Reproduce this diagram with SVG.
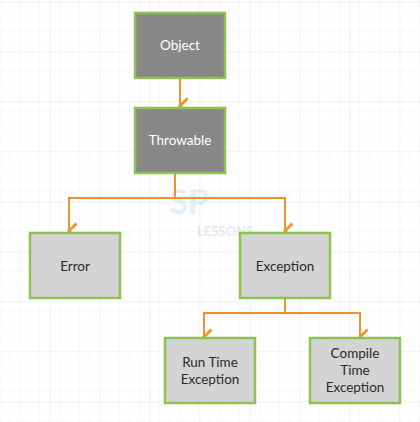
<svg xmlns="http://www.w3.org/2000/svg" width="420" height="422" viewBox="0 0 420 422">
<defs>
<pattern id="minor" width="10" height="10" patternUnits="userSpaceOnUse" x="0" y="2">
<path d="M10 0V10M0 10H10" fill="none" stroke="#f2f2f2" stroke-width="1"/>
</pattern>
<pattern id="major" width="50" height="50" patternUnits="userSpaceOnUse" x="0.5" y="2.5">
<path d="M50 0V50M0 50H50" fill="none" stroke="#e8e8e8" stroke-width="1"/>
</pattern>
<marker id="arr" viewBox="0 0 18 11" refX="9" refY="9" markerWidth="18" markerHeight="11" markerUnits="userSpaceOnUse" orient="auto-start-reverse">
<path d="M1.5 1.5L9 9L16.5 1.5" fill="none" stroke="#f0922a" stroke-width="2.8"/>
</marker>
</defs>
<style>
.dark{fill:#888888;stroke:#8cc250;stroke-width:2.5}
.light{fill:#d4d4d4;stroke:#8cc250;stroke-width:2.5}
.tw{font-family:Lato,"Open Sans",sans-serif;font-size:13.5px;fill:#ffffff;text-anchor:middle}
.tb{font-family:Lato,"Open Sans",sans-serif;font-size:13.5px;fill:#2a2a2a;text-anchor:middle}
.c{fill:none;stroke:#f0922a;stroke-width:2}
</style>
<rect width="420" height="422" fill="#ffffff"/>
<rect width="420" height="422" fill="url(#minor)"/>
<rect width="420" height="422" fill="url(#major)"/>
<g id="watermark" opacity="0.35">
<text x="189" y="214" font-family="Lato,sans-serif" font-size="34" font-weight="bold" fill="#b7d3ea" text-anchor="middle">SP</text>
<text x="225" y="236" font-family="Lato,sans-serif" font-size="13" font-weight="bold" fill="#b7c3cc" text-anchor="middle">LESSONS</text>
</g>
<g id="connectors">
<path class="c" d="M180 78V106" marker-end="url(#arr)"/>
<path class="c" d="M175 173V198H69V231" marker-end="url(#arr)"/>
<path class="c" d="M175 198H285V231" marker-end="url(#arr)"/>
<path class="c" d="M285 298V313H204V337" marker-end="url(#arr)"/>
<path class="c" d="M285 313H360V337" marker-end="url(#arr)"/>
</g>
<g id="object">
<rect class="dark" x="135" y="13" width="90" height="65"/>
<text class="tw" x="180" y="50">Object</text>
</g>
<g id="throwable">
<rect class="dark" x="135" y="108" width="90" height="65"/>
<text class="tw" x="180" y="145">Throwable</text>
</g>
<g id="error">
<rect class="light" x="30" y="233" width="90" height="65"/>
<text class="tb" x="75" y="271">Error</text>
</g>
<g id="exception">
<rect class="light" x="240" y="233" width="90" height="65"/>
<text class="tb" x="285" y="271">Exception</text>
</g>
<g id="runtime">
<rect class="light" x="165" y="338" width="90" height="65"/>
<text class="tb" x="210" y="367">Run Time</text>
<text class="tb" x="210" y="384">Exception</text>
</g>
<g id="compiletime">
<rect class="light" x="310" y="338" width="90" height="65"/>
<text class="tb" x="355" y="358">Compile</text>
<text class="tb" x="355" y="375">Time</text>
<text class="tb" x="355" y="392">Exception</text>
</g>
</svg>
